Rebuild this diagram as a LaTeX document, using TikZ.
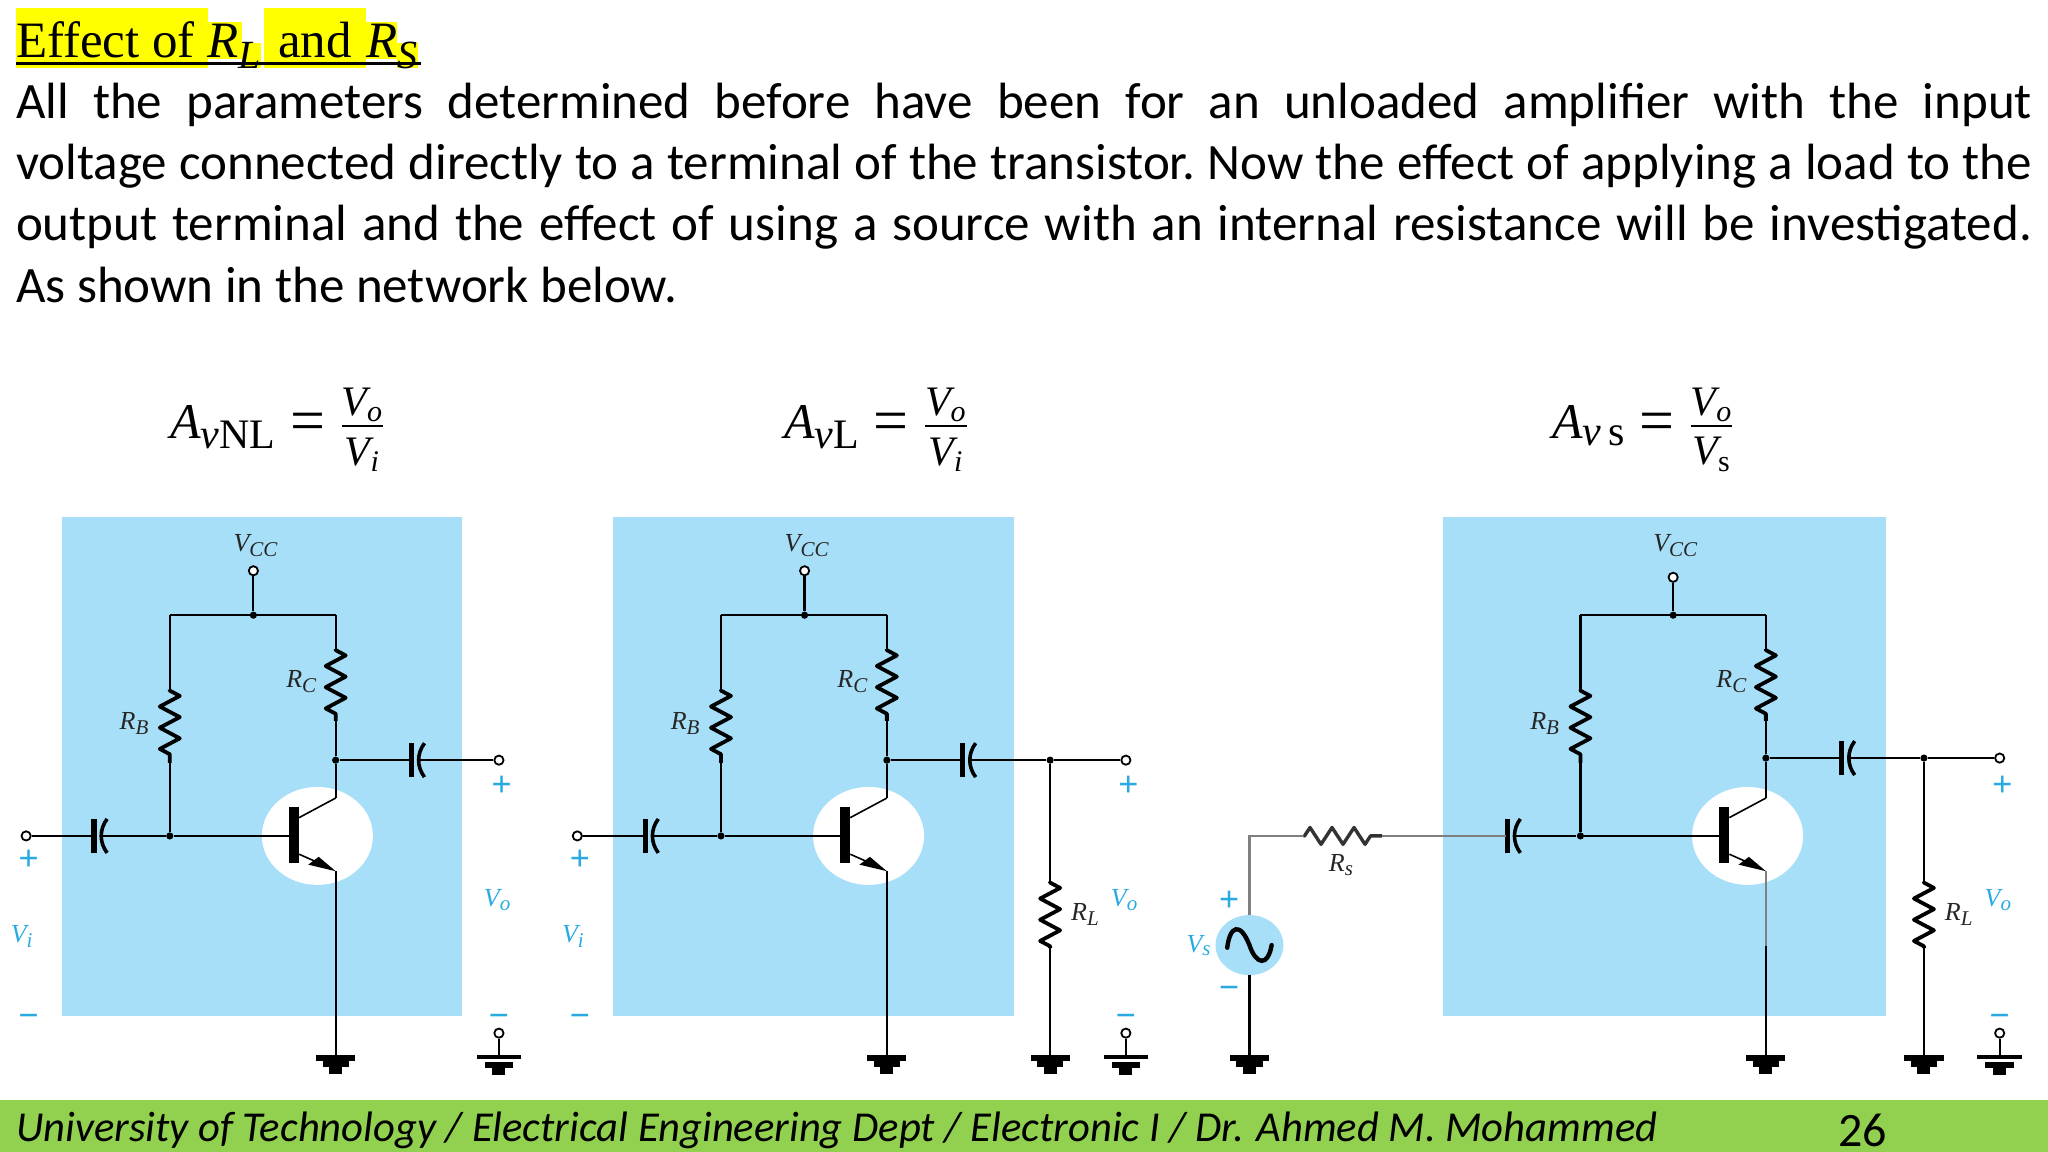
\RequirePackage{fix-cm}
\documentclass[tikz,border=0pt]{standalone}
\usepackage{amsmath}
\usepackage{fontspec}
\setmainfont{Carlito}
\newfontfamily\timesfont{Liberation Serif}
\usetikzlibrary{positioning,decorations.pathmorphing}
\definecolor{panelblue}{HTML}{A8DFF8}
\definecolor{polblue}{HTML}{29ABE2}
\definecolor{hilite}{HTML}{FFFF00}
\definecolor{footgreen}{HTML}{92D050}
\DeclareMathSizes{25}{25}{21}{15}
\DeclareMathSizes{13}{13}{10.5}{8}
\newcommand{\vi}[1]{\textit{#1}}
\newcommand{\eqfrac}[2]{\genfrac{}{}{1.1pt}{1}{#1\rule[-3.5pt]{0pt}{3.5pt}}{\rule{0pt}{18pt}#2}}
\newcommand{\eqsign}{\mathrel{\text{\fontsize{31}{31}\selectfont\raisebox{-1.5pt}{=}}}}
\newcommand{\titlesub}[1]{\raisebox{-5.5pt}{\fontsize{20}{20}\selectfont\textit{#1}}}
\tikzset{
wire/.style={line width=1.1pt},
greywire/.style={line width=1.1pt,draw=black!50},
res/.style={line width=1.9pt,line join=round,decorate,decoration={zigzag,amplitude=5pt,segment length=10.6pt,pre length=0.5pt,post length=0.5pt}},
term/.style={circle,draw,fill=white,line width=0.9pt,inner sep=0pt,minimum size=4.6pt},
jn/.style={circle,fill=black,inner sep=0pt,minimum size=3.6pt},
panel/.style={fill=panelblue},
lab/.style={font=\timesfont\fontsize{13}{14}\selectfont,text=black!85,inner sep=0pt},
pol/.style={font=\timesfont\bfseries\fontsize{18}{18}\selectfont,text=polblue,inner sep=0pt},
vlab/.style={font=\timesfont\fontsize{13}{14}\selectfont,text=polblue,inner sep=0pt},
eqn/.style={font=\timesfont\fontsize{25}{28}\selectfont,inner sep=0pt,anchor=west},
pics/bjt/.style={code={
\fill[white] (-14,0) ellipse [x radius=42.5,y radius=37.5];
\fill (-36,-22) rectangle (-28,21);
\coordinate (-b) at (-36,0);
\coordinate (-c) at (0,-29);
\coordinate (-e) at (0,27);
\draw[line width=0.8pt] (-28,-14)--(0,-29);
\draw[line width=0.8pt] (-28,14)--(-10,22);
\fill (0,27)--(-21,22)--(-13,16)--cycle;
}},
pics/cap/.style={code={
\coordinate (-l) at (-5,0);
\coordinate (-r) at (2,0);
\fill (-6,-13) rectangle (-2,13);
\draw[line width=1.8pt] (6,-13) .. controls (0,-5) and (0,5) .. (6,13);
}},
pics/gnd/.style={code={
\fill (-15,0) rectangle (15,4.5);
\fill (-10,4.5) rectangle (10,9);
\fill (-5,9) rectangle (5,14);
}},
pics/gndt/.style={code={
\fill (-17,0) rectangle (17,3);
\fill (-11,5) rectangle (11,10);
\fill (-5,10) rectangle (5,15);
}},
}
\begin{document}
\begin{tikzpicture}[x=0.653pt,y=-0.653pt]
\useasboundingbox (0,0) rectangle (1568,882);
\fill[hilite] (12,6) rectangle (159,52);
\fill[hilite] (159,17) rectangle (185,45);
\fill[hilite] (185,33) rectangle (200,52);
\fill[hilite] (202,6) rectangle (280,52);
\fill[hilite] (280,17) rectangle (304,45);
\fill[hilite] (304,33) rectangle (320,52);
\node[anchor=base west,inner sep=0pt,font=\timesfont\fontsize{25.5}{28}\selectfont] (title) at (12,44) {Effect of \textit{R}\titlesub{L}\hspace{8.5pt}and\hspace{7.5pt}\textit{R}\titlesub{S}};
\coordinate (ul1) at (12,48.5);
\coordinate (ul2) at (322,48.5);
\draw[line width=1.5pt] (ul1)--(ul2);
\node[anchor=north west,inner sep=0pt,text width=1008pt,align=justify,font=\fontsize{25.5}{30.7}\selectfont\frenchspacing] (body) at (12,63) {All the parameters determined before have been for an unloaded amplifier with the input\linebreak voltage connected directly to a terminal of the transistor. Now the effect of applying a load to the\linebreak output terminal and the effect of using a source with an internal resistance will be investigated.\linebreak As shown in the network below.};
\node[eqn] (eq1) at (130,329) {$\vi{A}_{\vi{v}\text{NL}}\eqsign\eqfrac{\vi{V}_{\vi{o}}}{\vi{V}_{\vi{i}}}$};
\node[eqn] (eq2) at (600,329) {$\vi{A}_{\vi{v}\text{L}}\eqsign\eqfrac{\vi{V}_{\vi{o}}}{\vi{V}_{\vi{i}}}$};
\node[eqn] (eq3) at (1188,329) {$\vi{A}_{\vi{v}\,\text{s}}\eqsign\eqfrac{\vi{V}_{\vi{o}}}{\vi{V}_{\text{s}}}$};
\fill[panel] (47.5,396) rectangle (354,778);
\fill[panel] (469.5,396) rectangle (776,778);
\fill[panel] (1105,396) rectangle (1444,778);
\foreach \n/\xb/\xc/\xv/\yv/\yo in {1/130/257/194/437/582,2/552/679/616/437/582,3/1210/1352/1281/442/580.4}{
\coordinate (tl\n) at (\xb,471);
\coordinate (tr\n) at (\xc,471);
\node[term] (vcc\n) at (\xv,\yv) {};
\node[jn] (j\n) at (\xv,471) {};
\coordinate (rb\n) at (\xb,528);
\coordinate (rbe\n) at (\xb,584);
\coordinate (rc\n) at (\xc,497);
\coordinate (rce\n) at (\xc,552);
\node[jn] (b\n) at (\xb,640) {};
\node[jn] (c\n) at (\xc,\yo) {};
\coordinate (g\n) at (\xc,808);
\pic (q\n) at (\xc,640) {bjt};
\pic (co\n) at (\xc+62,\yo) {cap};
\pic at (g\n) {gnd};
\draw[wire] (vcc\n)--(j\n);
\draw[wire] (tl\n)--(tr\n);
\draw[wire] (tl\n)--(rb\n);
\draw[res] (rb\n)--(rbe\n);
\draw[wire] (rbe\n)--(b\n);
\draw[wire] (tr\n)--(rc\n);
\draw[res] (rc\n)--(rce\n);
\draw[wire] (rce\n)--(c\n);
\draw[wire] (c\n)--(q\n-c);
\draw[wire] (b\n)--(q\n-b);
\draw[wire] (c\n)--(co\n-l);
\node[lab] (lvcc\n) at (\xv+2,418) {$\vi{V}_{\vi{CC}}$};
\node[lab] (lrb\n) at (\xb-27,554) {$\vi{R}_{\vi{B}}$};
\node[lab] (lrc\n) at (\xc-26,522) {$\vi{R}_{\vi{C}}$};
}
\draw[wire] (q1-e)--(g1);
\draw[wire] (q2-e)--(g2);
\coordinate (qm) at (1352,724);
\draw[greywire] (q3-e)--(qm);
\draw[wire] (qm)--(g3);
\foreach \n/\xi/\xo in {1/20/76,2/442/498}{
\node[term] (i\n) at (\xi,640) {};
\pic (ci\n) at (\xo,640) {cap};
\draw[wire] (i\n)--(ci\n-l);
\draw[wire] (ci\n-r)--(b\n);
\node[pol] (ip\n) at (\xi+2,659) {+};
\node[vlab] (lvi\n) at (\xi-3,717) {$\vi{V}_{\vi{i}}$};
\node[pol] (im\n) at (\xi+2,782) {−};
}
\foreach \n/\xr/\yo in {2/804/582,3/1473/580.4}{
\node[jn] (ol\n) at (\xr,\yo) {};
\coordinate (rl\n) at (\xr,675);
\coordinate (rle\n) at (\xr,726);
\coordinate (gl\n) at (\xr,808);
\pic at (gl\n) {gnd};
\draw[wire] (ol\n)--(rl\n);
\draw[res] (rl\n)--(rle\n);
\draw[wire] (rle\n)--(gl\n);
\node[lab] (lrl\n) at (\xr+27,700) {$\vi{R}_{\vi{L}}$};
}
\foreach \n/\xt/\yo in {1/382/582,2/862/582,3/1531/580.4}{
\node[term] (o\n) at (\xt,\yo) {};
\node[pol] (op\n) at (\xt+2,602) {+};
\node[vlab] (lvo\n) at (\xt-1,689) {$\vi{V}_{\vi{o}}$};
\node[pol] (om\n) at (\xt,782) {−};
\node[term] (gt\n) at (\xt,791) {};
\coordinate (gb\n) at (\xt,808);
\pic at (gb\n) {gndt};
\draw[wire] (gt\n)--(gb\n);
}
\draw[wire] (co1-r)--(o1);
\draw[wire] (co2-r)--(ol2);
\draw[wire] (ol2)--(o2);
\draw[wire] (co3-r)--(ol3);
\draw[wire] (ol3)--(o3);
\pic (ci3) at (1158,640) {cap};
\draw[wire] (ci3-r)--(b3);
\fill[panelblue] (956.6,723.6) ellipse [x radius=26,y radius=23];
\coordinate (vs) at (956.6,723.6);
\coordinate (vst) at (956.6,700.6);
\coordinate (vsb) at (956.6,746.6);
\coordinate (vsc) at (956.6,640);
\coordinate (rs) at (998,640);
\coordinate (rse) at (1058,640);
\coordinate (gs) at (956.6,808);
\draw[line width=2.2pt,line cap=round,shift={(vs)}] (-17,2) .. controls (-15,-15) and (-7,-18) .. (0,0) .. controls (5,15) and (14,17) .. (17,0);
\pic at (gs) {gnd};
\draw[greywire] (vst)--(vsc)--(rs);
\draw[res,line width=1.7pt,draw=black!80,decoration={zigzag,amplitude=4.2pt,segment length=11pt}] (rs)--(rse);
\draw[greywire] (rse)--(ci3-l);
\draw[wire] (vsb)--(gs);
\node[lab] (lrs) at (1027,662) {$\vi{R}_{\vi{s}}$};
\node[pol] (sp) at (941,690) {+};
\node[vlab] (lvs) at (918,724) {$\vi{V}_{\vi{s}}$};
\node[pol] (sm) at (941,760) {−};
\fill[footgreen] (0,842) rectangle (1568,882);
\node[anchor=base west,inner sep=0pt,font=\fontsize{21.3}{24}\selectfont\itshape] (foot) at (12,874) {University of Technology / Electrical Engineering Dept / Electronic I / Dr. Ahmed M. Mohammed};
\node[inner sep=0pt,font=\fontsize{24}{26}\selectfont,right=90pt of foot.east] (page) {26};
\end{tikzpicture}
\end{document}
